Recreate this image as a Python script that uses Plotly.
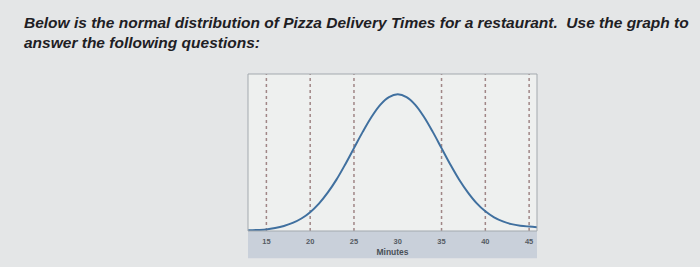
import plotly.graph_objects as go

# Curve values (density vs minutes)
minutes = [12.9, 14, 15, 16, 17, 18, 19, 20, 21, 22, 23, 24, 25, 26, 27, 28, 29, 30,
           31, 32, 33, 34, 35, 36, 37, 38, 39, 40, 41, 42, 43, 44, 45, 46]
density = [0.0004, 0.0006, 0.0009, 0.0017, 0.0029, 0.0047, 0.0073, 0.0110, 0.0160, 0.0224,
           0.0300, 0.0389, 0.0484, 0.0579, 0.0666, 0.0737, 0.0782, 0.0798,
           0.0782, 0.0737, 0.0666, 0.0579, 0.0484, 0.0389, 0.0301, 0.0226, 0.0163, 0.0115,
           0.0080, 0.0056, 0.0040, 0.0031, 0.0026, 0.0022]
tick_vals = [15, 20, 25, 30, 35, 40, 45]
tick_text = ["15", "20", "25", "30", "35", "40", "45"]
grid_minutes = [15, 20, 25, 35, 40, 45]

X_RANGE = [12.9, 45.9]
Y_MAX = 0.0917

gx, gy = [], []
for g in grid_minutes:
    gx += [g, g, None]
    gy += [0, Y_MAX, None]

fig = go.Figure()
fig.add_trace(go.Scatter(x=gx, y=gy, mode="lines",
                         line=dict(color="#a08686", width=1.5, dash="dot"),
                         hoverinfo="skip", showlegend=False))
fig.add_trace(go.Scatter(x=minutes, y=density, mode="lines", line_shape="spline",
                         line=dict(color="#40709f", width=2), showlegend=False))

L, R, T, B = 248, 163, 74, 31
W, H = 700, 267
pw, ph = W - L - R, H - T - B

def px(x):
    return (x - L) / pw

def py(y):
    return (H - B - y) / ph

title_font = dict(family="Liberation Sans", size=15.5, color="#1e2024",
                  style="italic", weight=600)

fig.update_layout(
    width=W, height=H,
    margin=dict(l=L, r=R, t=T, b=B, pad=0),
    paper_bgcolor="#e4e6e7",
    plot_bgcolor="#eef0ef",
    xaxis=dict(range=X_RANGE, tickvals=tick_vals, ticktext=tick_text,
               showgrid=False, zeroline=False, showline=False, ticks="",
               ticklabelstandoff=4,
               tickfont=dict(family="Liberation Sans", size=7.5, color="#555b63", weight=600),
               title=dict(text="Minutes", standoff=4,
                          font=dict(family="Liberation Sans", size=8.5, color="#4a5058", weight=600))),
    yaxis=dict(range=[0, Y_MAX], showgrid=False, zeroline=False, showline=False,
               showticklabels=False, ticks=""),
    shapes=[
        dict(type="rect", xref="paper", yref="paper", x0=0, x1=1, y0=py(264), y1=0,
             fillcolor="#c9d0da", line=dict(width=0), layer="below"),
        dict(type="rect", xref="paper", yref="paper", x0=0, x1=1, y0=0, y1=1,
             fillcolor="rgba(0,0,0,0)", line=dict(color="#a3a9ae", width=1), layer="above"),
    ],
    annotations=[
        dict(text="Below is the normal distribution of Pizza Delivery Times for a restaurant.  Use the graph to",
             xref="paper", yref="paper", x=px(22), y=py(21), xanchor="left", yanchor="middle",
             showarrow=False, font=title_font),
        dict(text="answer the following questions:",
             xref="paper", yref="paper", x=px(22), y=py(41), xanchor="left", yanchor="middle",
             showarrow=False, font=title_font),
    ],
)

fig.write_html("out.html")
